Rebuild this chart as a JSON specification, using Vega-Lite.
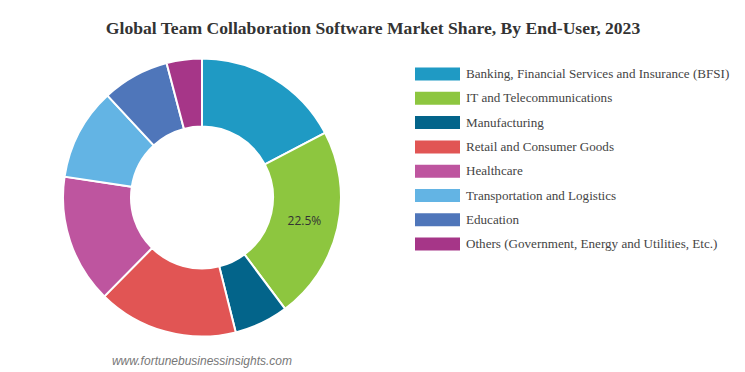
{
  "$schema": "https://vega.github.io/schema/vega-lite/v6.json",
  "width": 278,
  "height": 278,
  "autosize": {"type": "none"},
  "padding": {"left": 63, "top": 58.5, "right": 404, "bottom": 35.5},
  "background": "white",
  "title": {
    "text": "Global Team Collaboration Software Market Share, By End-User, 2023",
    "font": "Liberation Serif",
    "fontSize": 17.6,
    "fontWeight": "bold",
    "color": "#333333",
    "anchor": "middle",
    "dx": 171,
    "offset": 17
  },
  "data": {
    "values": [
      {"segment": "Banking, Financial Services and Insurance (BFSI)", "share": 0.173, "rank": 1},
      {"segment": "IT and Telecommunications", "share": 0.225, "rank": 2},
      {"segment": "Manufacturing", "share": 0.063, "rank": 3},
      {"segment": "Retail and Consumer Goods", "share": 0.163, "rank": 4},
      {"segment": "Healthcare", "share": 0.150, "rank": 5},
      {"segment": "Transportation and Logistics", "share": 0.107, "rank": 6},
      {"segment": "Education", "share": 0.078, "rank": 7},
      {"segment": "Others (Government, Energy and Utilities, Etc.)", "share": 0.041, "rank": 8},
      {"segment": "source", "share": 0, "rank": 9}
    ]
  },
  "layer": [
    {
      "transform": [{"filter": "datum.segment !== 'source'"}],
      "mark": {"type": "arc", "innerRadius": 71, "outerRadius": 139, "stroke": "white", "strokeWidth": 2},
      "encoding": {
        "theta": {"field": "share", "type": "quantitative", "stack": true},
        "order": {"field": "rank", "type": "quantitative"},
        "color": {
          "field": "segment",
          "type": "nominal",
          "scale": {
            "domain": [
              "Banking, Financial Services and Insurance (BFSI)",
              "IT and Telecommunications",
              "Manufacturing",
              "Retail and Consumer Goods",
              "Healthcare",
              "Transportation and Logistics",
              "Education",
              "Others (Government, Energy and Utilities, Etc.)"
            ],
            "range": ["#1F9AC4", "#8DC63F", "#03648A", "#E15554", "#BE559F", "#63B4E4", "#4F76BA", "#A63688"]
          },
          "legend": {
            "orient": "none",
            "legendX": 352,
            "legendY": 3.5,
            "title": null,
            "padding": 0,
            "symbolType": "M-1,-0.289H1V0.289H-1Z",
            "symbolSize": 2025,
            "symbolStrokeWidth": 0,
            "symbolOpacity": 1,
            "clipHeight": 24,
            "rowPadding": 0.3,
            "labelOffset": 6,
            "labelFont": "Liberation Serif",
            "labelFontSize": 13.1,
            "labelColor": "#444444",
            "labelLimit": 400
          }
        }
      }
    },
    {
      "transform": [{"filter": "datum.segment !== 'source'"}],
      "mark": {"type": "text", "radius": 105, "font": "Open Sans", "fontSize": 12, "color": "#333333"},
      "encoding": {
        "theta": {"field": "share", "type": "quantitative", "stack": true},
        "order": {"field": "rank", "type": "quantitative"},
        "text": {
          "condition": {"test": "datum.segment === 'IT and Telecommunications'", "field": "share", "type": "quantitative", "format": ".1%"},
          "value": ""
        }
      }
    },
    {
      "transform": [{"filter": "datum.segment === 'source'"}],
      "mark": {"type": "text", "theta": 3.14159, "radius": 163, "font": "Liberation Sans", "fontStyle": "italic", "fontSize": 12, "color": "#777777"},
      "encoding": {
        "text": {"value": "www.fortunebusinessinsights.com"}
      }
    }
  ]
}
